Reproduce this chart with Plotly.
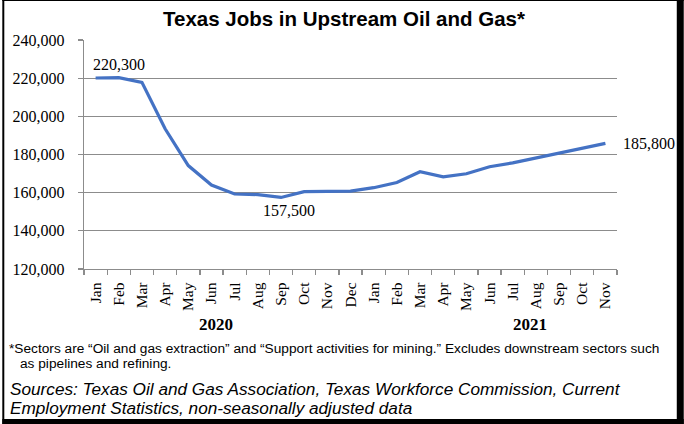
import plotly.graph_objects as go

# ---- data ----
months = ["Jan", "Feb", "Mar", "Apr", "May", "Jun", "Jul", "Aug", "Sep", "Oct", "Nov", "Dec",
          "Jan", "Feb", "Mar", "Apr", "May", "Jun", "Jul", "Aug", "Sep", "Oct", "Nov"]
years = ["2020", "2021"]
jobs = [220100, 220300, 217800, 193500, 174200, 164000, 159300, 159000, 157500, 160500, 160700, 160800,
        162600, 165300, 171000, 168300, 169900, 173600, 175600, 178100, 180900, 183400, 185800]
y_ticks = [120000, 140000, 160000, 180000, 200000, 220000, 240000]

W, H = 684, 424
L, R, T, B = 82, 617, 40, 269


def px(x):
    return (x - L) / (R - L)


def py(y):
    return (B - y) / (B - T)


idx = list(range(len(months)))
blue = "#4472c4"
grid = "#8c8c8c"
serif = "Liberation Serif, Times New Roman, serif"
sans = "Liberation Sans, Arial, sans-serif"

fig = go.Figure()
fig.add_trace(go.Scatter(x=idx, y=jobs, mode="lines",
                         line=dict(color=blue, width=3.2), hoverinfo="skip"))
# invisible trace for boundary tick axis
fig.add_trace(go.Scatter(x=idx, y=jobs, mode="lines", xaxis="x2",
                         line=dict(width=0), opacity=0, hoverinfo="skip"))

fig.update_layout(
    width=W, height=H,
    margin=dict(l=L, r=W - R, t=T, b=H - B, pad=0),
    paper_bgcolor="white", plot_bgcolor="white",
    showlegend=False,
    xaxis=dict(range=[-0.5, len(months) - 0.5], tickmode="array", tickvals=idx, ticktext=months,
               tickangle=-90, ticks="", showgrid=False, zeroline=False,
               showline=True, linecolor=grid, linewidth=1.3,
               tickfont=dict(family=serif, size=15.5, color="black"), ticklabelstandoff=6),
    xaxis2=dict(range=[-0.5, len(months) - 0.5], overlaying="x", anchor="y", side="bottom",
                tickmode="array", tickvals=[i - 0.5 for i in range(len(months) + 1)],
                showticklabels=False, ticks="outside", ticklen=5, tickcolor=grid, tickwidth=1.3,
                showgrid=False, zeroline=False, showline=False),
    yaxis=dict(range=[y_ticks[0], y_ticks[-1]], tickmode="array", tickvals=y_ticks,
               ticktext=[f"{v:,}" for v in y_ticks],
               showgrid=True, gridcolor=grid, gridwidth=1.3, zeroline=False,
               showline=True, linecolor=grid, linewidth=1.3,
               ticks="outside", ticklen=5, tickcolor=grid, tickwidth=1.3,
               tickfont=dict(family=serif, size=16, color="black"), ticklabelstandoff=10),
)

# data labels
first_i = jobs.index(max(jobs[:3]))
min_i = jobs.index(min(jobs))
last_i = len(jobs) - 1
lab_font = dict(family=serif, size=16, color="black")
fig.add_annotation(x=first_i, y=jobs[first_i], text=f"{jobs[first_i]:,}", showarrow=False,
                   yshift=13, font=lab_font)
fig.add_annotation(x=min_i, y=jobs[min_i], text=f"{jobs[min_i]:,}", showarrow=False,
                   yshift=-13, xshift=8, font=lab_font)
fig.add_annotation(x=last_i, y=jobs[last_i], text=f"{jobs[last_i]:,}", showarrow=False,
                   xanchor="left", xshift=16, font=lab_font)

# title
fig.add_annotation(xref="paper", yref="paper", x=px(343), y=py(18), text="<b>Texas Jobs in Upstream Oil and Gas*</b>",
                   showarrow=False, xanchor="center", yanchor="middle",
                   font=dict(family=sans, size=20.5, color="black"))
# year labels
for yr, cx in zip(years, [214, 530]):
    fig.add_annotation(xref="paper", yref="paper", x=px(cx), y=py(324), text=f"<b>{yr}</b>",
                       showarrow=False, xanchor="center", yanchor="middle",
                       font=dict(family=serif, size=17, color="black"))
# footnote
fig.add_annotation(xref="paper", yref="paper", x=px(5), y=py(348),
                   text="*Sectors are “Oil and gas extraction” and “Support activities for mining.” Excludes downstream sectors such",
                   showarrow=False, xanchor="left", yanchor="middle",
                   font=dict(family=sans, size=13.7, color="black"))
fig.add_annotation(xref="paper", yref="paper", x=px(16), y=py(363),
                   text="as pipelines and refining.",
                   showarrow=False, xanchor="left", yanchor="middle",
                   font=dict(family=sans, size=13.7, color="black"))
fig.add_annotation(xref="paper", yref="paper", x=px(6), y=py(389),
                   text="<i>Sources: Texas Oil and Gas Association, Texas Workforce Commission, Current</i>",
                   showarrow=False, xanchor="left", yanchor="middle",
                   font=dict(family=sans, size=17.2, color="black"))
fig.add_annotation(xref="paper", yref="paper", x=px(6), y=py(408),
                   text="<i>Employment Statistics, non-seasonally adjusted data</i>",
                   showarrow=False, xanchor="left", yanchor="middle",
                   font=dict(family=sans, size=17.2, color="black"))

# black frame
for x0, y0, x1, y1 in [(0, 0, 2, H), (0, 0, W, 1), (677, 0, W, H), (0, 419, W, H)]:
    fig.add_shape(type="rect", xref="paper", yref="paper", x0=px(x0), x1=px(x1), y0=py(y0), y1=py(y1),
                  fillcolor="black", line=dict(width=0), layer="above")

fig.write_html("out.html", config={"displayModeBar": False, "staticPlot": True},
               post_script="document.body.style.margin='0';document.body.style.overflow='hidden';")
